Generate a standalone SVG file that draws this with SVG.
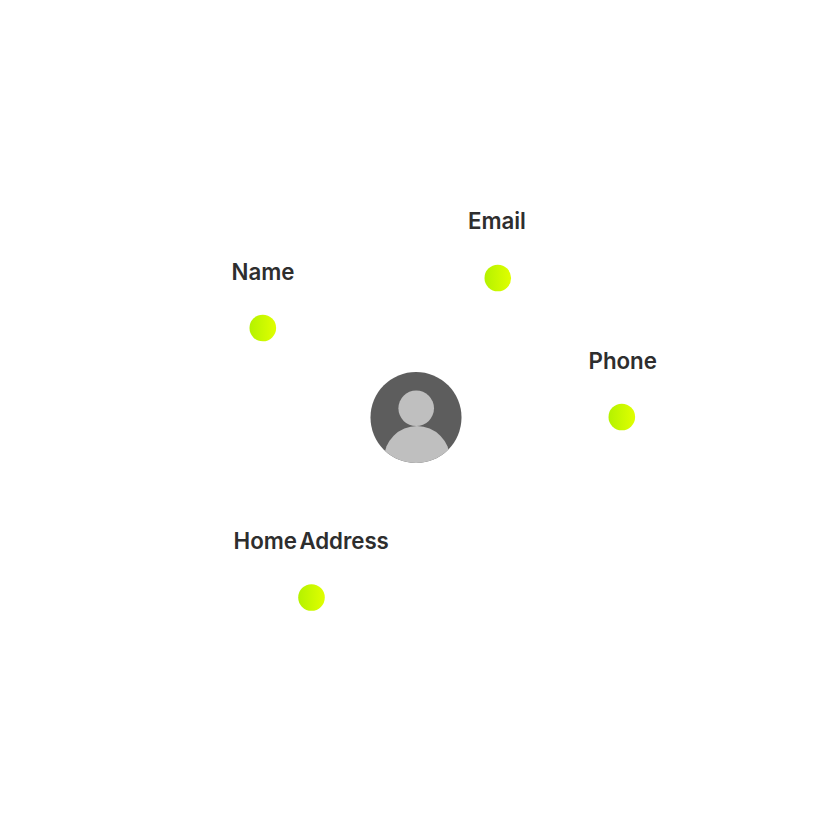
<svg xmlns="http://www.w3.org/2000/svg" width="830" height="831" viewBox="0 0 830 831">
<style>
.lbl{font-family:"Inter","Liberation Sans",sans-serif;font-size:22.300px;font-weight:600;fill:#2e2e2e;text-anchor:middle;letter-spacing:-.05px;word-spacing:-3px}
.dot{fill:url(#g)}
</style>
<defs>
<linearGradient id="g" x1="0" y1="0" x2="1" y2="0"><stop offset="0" stop-color="#b4f200"/><stop offset="1" stop-color="#e0ff00"/></linearGradient>
<clipPath id="c"><circle cx="416" cy="417.500" r="45.500"/></clipPath>
</defs>
<rect width="830" height="831" fill="#fff"/>
<g id="connectors"/>
<g id="avatar">
<circle cx="416" cy="417.500" r="45.500" fill="#5d5d5d"/>
<circle cx="416.200" cy="408.300" r="17.800" fill="#bfbfbf"/>
<circle cx="417" cy="459" r="33" fill="#bfbfbf" clip-path="url(#c)"/>
</g>
<g id="name"><text class="lbl" x="263" y="280.400">Name</text><circle class="dot" cx="262.800" cy="328" r="13.300"/></g>
<g id="email"><text class="lbl" x="497" y="229.400">Email</text><circle class="dot" cx="497.800" cy="278" r="13.300"/></g>
<g id="phone"><text class="lbl" x="622.700" y="369.400">Phone</text><circle class="dot" cx="621.800" cy="417" r="13.300"/></g>
<g id="home-address"><text class="lbl" x="311.200" y="549.400">Home Address</text><circle class="dot" cx="311.500" cy="597.500" r="13.300"/></g>
</svg>
